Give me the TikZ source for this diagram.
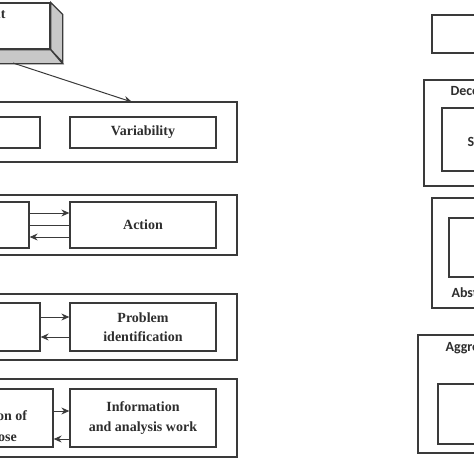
\documentclass[tikz,border=0pt]{standalone}
\usepackage{fontspec}
\setmainfont{Liberation Serif}
\newfontfamily\rsans{Carlito}
\usetikzlibrary{arrows.meta}
\definecolor{ln}{HTML}{3A3A3A}
\definecolor{sh}{HTML}{C8C8C8}
\tikzset{
  box/.style={draw=ln, line width=1.3pt, rectangle, inner sep=0pt, fill=white},
  lt/.style={font=\fontsize{14}{19.5}\selectfont\bfseries, align=center, text=ln!80!black},
  rt/.style={font=\rsans\fontsize{14}{17}\selectfont\bfseries, text=ln!80!black},
  arr/.style={draw=ln, line width=1pt, -{Stealth[length=8pt,width=7pt]}},
  pln/.style={draw=ln, line width=1pt}
}
\begin{document}
\begin{tikzpicture}[x=1pt,y=-1pt]
\useasboundingbox (0,0) rectangle (474,474);
% 3D box
\node[box, minimum width=90pt, minimum height=46pt] (cube) at (5,26) {};
\fill[sh, draw=ln, line width=1.3pt] (cube.north east) -- ++(12,12) -- ++(0,48) -- (cube.south east) -- cycle;
\fill[sh, draw=ln, line width=1.3pt] (cube.south west) -- (cube.south east) -- ++(12,14) -- ++(-90,0) -- cycle;
\node[lt, anchor=east] (cubet) at (9,15) {Input};
\coordinate (cubebot) at (13,63);
% group 1
\node[box, minimum width=257pt, minimum height=60pt] (g1) at (108.5,132) {};
\node[box, minimum width=100pt, minimum height=31pt] (l1) at (-10,132.5) {};
\node[box, minimum width=146pt, minimum height=31pt] (var) at (143,132.5) {};
\node[lt] at (var) {Variability};
\coordinate (g1tip) at (132,102);
\draw[arr] (cubebot) -- (g1tip);
% group 2
\node[box, minimum width=257pt, minimum height=60pt] (g2) at (108.5,225) {};
\node[box, minimum width=89pt, minimum height=46pt] (l2) at (-15.5,225) {};
\node[box, minimum width=146pt, minimum height=46pt] (act) at (143,225) {};
\node[lt] at (act) {Action};
\draw[arr] ([yshift=12pt]l2.east) -- ([yshift=12pt]act.west);
\draw[pln] (l2.east) -- (act.west);
\draw[arr] ([yshift=-12pt]act.west) -- ([yshift=-12pt]l2.east);
% group 3
\node[box, minimum width=257pt, minimum height=66pt] (g3) at (108.5,327) {};
\node[box, minimum width=100pt, minimum height=48pt] (l3) at (-10,327) {};
\node[box, minimum width=146pt, minimum height=48pt] (prob) at (143,327) {};
\node[lt] at (prob) {Problem\\identification};
\draw[arr] ([yshift=10pt]l3.east) -- ([yshift=10pt]prob.west);
\draw[arr] ([yshift=-10pt]prob.west) -- ([yshift=-10pt]l3.east);
% group 4
\node[box, minimum width=257pt, minimum height=78pt] (g4) at (108.5,418) {};
\node[box, minimum width=113pt, minimum height=58pt] (l4) at (-3.5,418) {};
\node[lt, font=\fontsize{14}{21}\selectfont\bfseries] at (-18.3,428) {Formulation of\\the purpose};
\node[box, minimum width=146pt, minimum height=58pt] (info) at (143,418) {};
\node[lt] at (info) {Information\\and analysis work};
\draw[arr] ([yshift=7pt]l4.east) -- ([yshift=7pt]info.west);
\draw[arr] ([yshift=-21pt]info.west) -- ([yshift=-21pt]l4.east);
% right side
\node[box, minimum width=80pt, minimum height=38pt] (rtop) at (472,34) {};
\node[box, minimum width=100pt, minimum height=106pt] (dec) at (474,133) {};
\node[rt, anchor=west] at (447,92) {Decomposition};
\node[box, minimum width=80pt, minimum height=63pt] (decin) at (482,139.5) {};
\node[rt, anchor=west] at (464,143) {Subsystems};
\node[box, minimum width=90pt, minimum height=110pt] (abs) at (477,253) {};
\node[box, minimum width=70pt, minimum height=59pt] (absin) at (484,247.5) {};
\node[rt, anchor=west] at (448,293) {Abstraction};
\node[box, minimum width=110pt, minimum height=118pt] (agg) at (473,394) {};
\node[rt, anchor=west] at (442,348) {Aggregation};
\node[box, minimum width=90pt, minimum height=60pt] (aggin) at (483,414) {};
\end{tikzpicture}
\end{document}
